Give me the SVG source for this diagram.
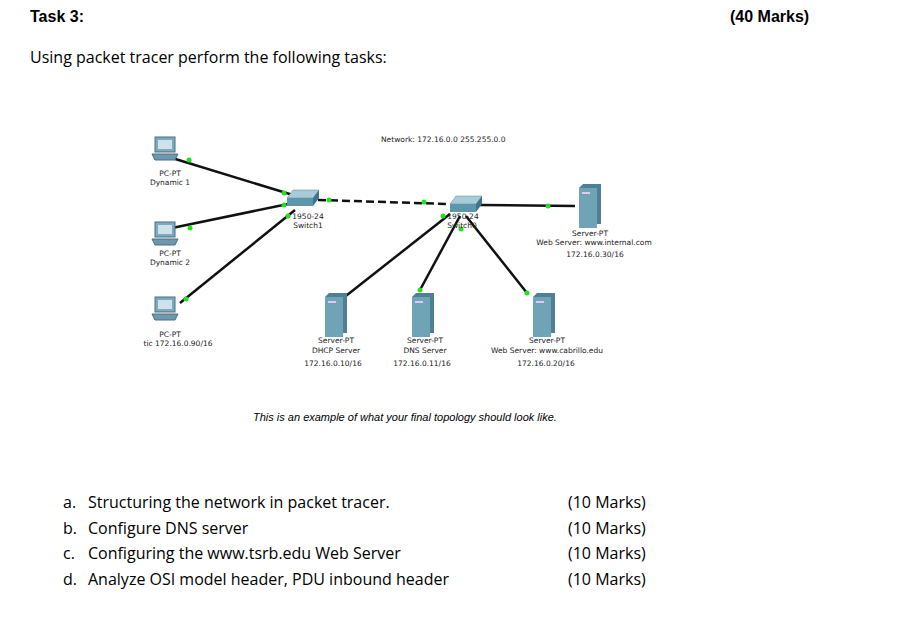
<svg xmlns="http://www.w3.org/2000/svg" width="917" height="630" viewBox="0 0 917 630">
<style>
.h{font-family:"Liberation Sans",Arial,sans-serif;font-size:16px;font-weight:bold;fill:#000}
.b{font-family:"Open Sans","Liberation Sans",sans-serif;font-size:16px;fill:#000}
.s{font-family:"DejaVu Sans",sans-serif;font-size:7.5px;fill:#222;text-anchor:middle}
.l{stroke:#111;stroke-width:2.5;fill:none}
.d{fill:#20e020}
.cap{font-family:"Liberation Sans",Arial,sans-serif;font-size:11px;font-style:italic;fill:#000}
</style>
<defs>
<g id="pc"><rect x="-10" y="-13" width="20" height="15" fill="#7fa9bf" stroke="#4a6f82"/><rect x="-7" y="-10" width="14" height="9" fill="#cfe2ec"/><path d="M-13 4h26l-3 6h-20z" fill="#6f98ad" stroke="#4a6f82"/></g>
<g id="srv"><path d="M-11 -18l4 -4h18v40h-4z" fill="#4f7f93"/><rect x="-11" y="-18" width="18" height="40" fill="#6fa3b6"/><rect x="-8" y="-14" width="8" height="2" fill="#dce"/></g>
<g id="sw"><path d="M-15 -2l6 -8h26l-6 8z" fill="#a9cad8" stroke="#5b8597" stroke-width="0.5"/><path d="M-15 -2h26v8h-26z" fill="#5d96ad"/><path d="M11 -2l6 -8v8l-6 8z" fill="#3f7389"/></g>
</defs>
<text x="30" y="22" class="h">Task 3:</text>
<text x="730" y="22" class="h">(40 Marks)</text>
<text x="30" y="63" class="b">Using packet tracer perform the following tasks:</text>
<text x="381" y="142" class="s" text-anchor="start" style="text-anchor:start">Network: 172.16.0.0 255.255.0.0</text>
<g id="connectors">
<line class="l" x1="172" y1="158" x2="293" y2="195"/>
<line class="l" x1="172" y1="228" x2="293" y2="203"/>
<line class="l" x1="180" y1="303" x2="295" y2="210"/>
<line class="l" x1="318" y1="200" x2="447" y2="204" stroke-dasharray="8 4"/>
<line class="l" x1="480" y1="205" x2="575" y2="206"/>
<line class="l" x1="450" y1="214" x2="342" y2="299"/>
<line class="l" x1="460" y1="216" x2="420" y2="290"/>
<line class="l" x1="466" y1="216" x2="527" y2="293"/>
<g class="d"><circle cx="189" cy="160" r="2.5"/><circle cx="284" cy="193" r="2.5"/><circle cx="190" cy="228" r="2.5"/><circle cx="284" cy="205" r="2.5"/><circle cx="186" cy="299" r="2.5"/><circle cx="288" cy="216" r="2.5"/><circle cx="329" cy="200" r="2.5"/><circle cx="424" cy="202" r="2.5"/><circle cx="471" cy="204" r="2.5"/><circle cx="548" cy="206" r="2.5"/><circle cx="443" cy="216" r="2.5"/><circle cx="343" cy="298" r="2.5"/><circle cx="420" cy="290" r="2.5"/><circle cx="461" cy="229" r="2.5"/><circle cx="527" cy="293" r="2.5"/></g>
</g>
<g id="pc1"><use href="#pc" x="165" y="150"/><text class="s" x="170" y="176">PC-PT</text><text class="s" x="170" y="185">Dynamic 1</text></g>
<g id="pc2"><use href="#pc" x="165" y="235"/><text class="s" x="170" y="256">PC-PT</text><text class="s" x="170" y="265">Dynamic 2</text></g>
<g id="pc3"><use href="#pc" x="165" y="310"/><text class="s" x="170" y="337">PC-PT</text><text class="s" x="178" y="346">tic 172.16.0.90/16</text></g>
<g id="switch1"><use href="#sw" x="302" y="200"/><text class="s" x="308" y="219">1950-24</text><text class="s" x="308" y="228">Switch1</text></g>
<g id="switch0"><use href="#sw" x="465" y="206"/><text class="s" x="463" y="219">1950-24</text><text class="s" x="462" y="228">Switch0</text></g>
<g id="web1"><use href="#srv" x="590" y="206"/><text class="s" x="590" y="236">Server-PT</text><text class="s" x="594" y="245">Web Server: www.internal.com</text><text class="s" x="595" y="257">172.16.0.30/16</text></g>
<g id="dhcp"><use href="#srv" x="336" y="315"/><text class="s" x="336" y="343">Server-PT</text><text class="s" x="336" y="353">DHCP Server</text><text class="s" x="333" y="366">172.16.0.10/16</text></g>
<g id="dns"><use href="#srv" x="423" y="315"/><text class="s" x="425" y="343">Server-PT</text><text class="s" x="425" y="353">DNS Server</text><text class="s" x="422" y="366">172.16.0.11/16</text></g>
<g id="web2"><use href="#srv" x="544" y="315"/><text class="s" x="547" y="343">Server-PT</text><text class="s" x="547" y="353">Web Server: www.cabrillo.edu</text><text class="s" x="546" y="366">172.16.0.20/16</text></g>
<text x="253" y="421" class="cap">This is an example of what your final topology should look like.</text>
<g class="b">
<text x="63" y="508">a.</text><text x="88" y="508">Structuring the network in packet tracer.</text><text x="568" y="508">(10 Marks)</text>
<text x="63" y="534">b.</text><text x="88" y="534">Configure DNS server</text><text x="568" y="534">(10 Marks)</text>
<text x="63" y="559">c.</text><text x="88" y="559">Configuring the www.tsrb.edu Web Server</text><text x="568" y="559">(10 Marks)</text>
<text x="63" y="585">d.</text><text x="88" y="585">Analyze OSI model header, PDU inbound header</text><text x="568" y="585">(10 Marks)</text>
</g>
</svg>
